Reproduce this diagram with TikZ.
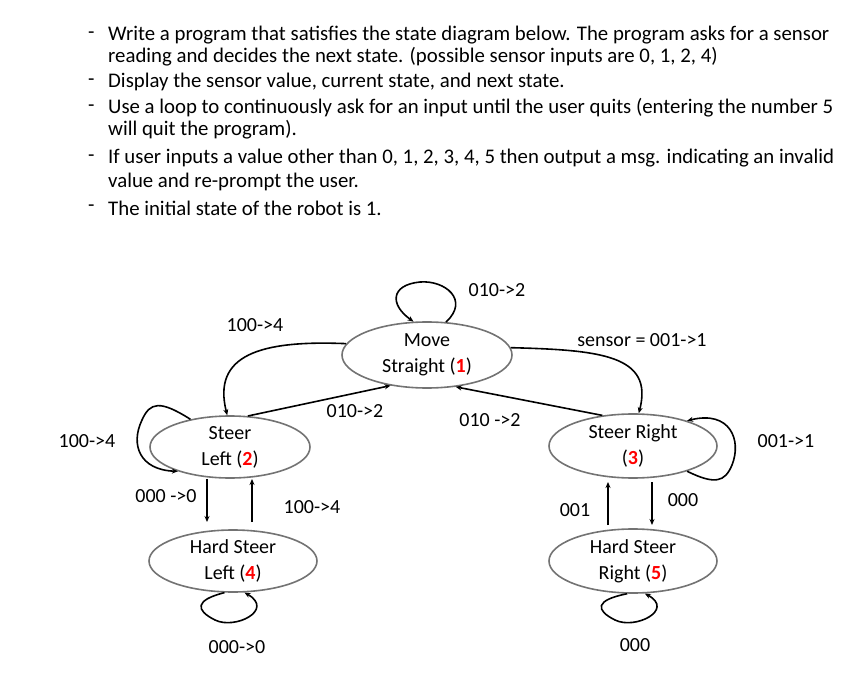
\documentclass[tikz,border=0pt]{standalone}
\usepackage{fontspec}
\setmainfont{Carlito}
\usetikzlibrary{arrows.meta,shapes.geometric}
\begin{document}
\begin{tikzpicture}[x=1pt,y=-1pt,
  st/.style={draw=black!55,line width=1.6pt,ellipse,minimum width=#1,inner sep=0pt,align=center,font=\fontsize{20}{26}\selectfont},
  st/.default=168pt,
  ar/.style={line width=1.6pt,-{Stealth[length=6pt,width=5pt]}},
  lb/.style={font=\fontsize{20}{22}\selectfont,inner sep=0pt},
  tx/.style={font=\fontsize{20.8}{22}\selectfont,inner sep=0pt,anchor=west}]
\useasboundingbox (0,0) rectangle (855,693);
\def\R#1{\textbf{\color{red}#1}}
% top text
\foreach \y in {35,82,108,158,208} \node[tx] at (88,\y) {-};
\node[tx] (t1) at (108,35) {Write a program that satisfies the state diagram below. The program asks for a sensor};
\node[tx] (t2) at (108,57) {reading and decides the next state. (possible sensor inputs are 0, 1, 2, 4)};
\node[tx] (t3) at (108,82) {Display the sensor value, current state, and next state.};
\node[tx] (t4) at (108,108) {Use a loop to continuously ask for an input until the user quits (entering the number 5};
\node[tx] (t5) at (108,130) {will quit the program).};
\node[tx] (t6) at (108,158) {If user inputs a value other than 0, 1, 2, 3, 4, 5 then output a msg. indicating an invalid};
\node[tx] (t7) at (108,182) {value and re-prompt the user.};
\node[tx] (t8) at (108,208) {The initial state of the robot is 1.};
% states
\node[st=170pt,minimum height=66pt] (m) at (427,355) {Move\\Straight (\R{1})};
\node[st=160pt,minimum height=62pt] (sl) at (230,447) {Steer\\Left (\R{2})};
\node[st=168pt,minimum height=64pt] (sr) at (633,446) {Steer Right\\(\R{3})};
\node[st=168pt,minimum height=62pt] (hl) at (233,561) {Hard Steer\\Left (\R{4})};
\node[st=168pt,minimum height=64pt] (hr) at (633,561) {Hard Steer\\Right (\R{5})};
\coordinate (a1) at (207,484); \coordinate (a2) at (207,522);
\coordinate (b1) at (252,522); \coordinate (b2) at (252,479);
\coordinate (c1) at (608,525); \coordinate (c2) at (608,482);
\coordinate (d1) at (652,482); \coordinate (d2) at (652,525);
% edges
\draw[ar] (m.60) .. controls (470,300) and (445,280) .. (420,282) .. controls (390,285) and (390,305) .. (m.112);
\node[lb] at (497,290) {010->2};
\draw[ar] (m.172) .. controls (260,340) and (212,355) .. (sl.95);
\node[lb] at (255,325) {100->4};
\draw[ar] (sl.60) -- (m.-140);
\node[lb] at (355,411) {010->2};
\draw[ar] (sr.135) -- (m.-48);
\node[lb] at (490,420) {010 ->2};
\draw[ar] (m.5) .. controls (600,350) and (654,355) .. (sr.80);
\node[lb] at (642,340) {sensor = 001->1};
\draw[ar] (sr.-25) .. controls (715,485) and (725,482) .. (732,465) .. controls (742,440) and (730,410) .. (sr.25);
\node[lb] at (786,441) {001->1};
\draw[ar] (sl.145) .. controls (160,400) and (150,402) .. (142,420) .. controls (130,445) and (140,470) .. (sl.-155);
\node[lb] at (87,441) {100->4};
\draw[ar] (sl.south -| a1) -- (a2);
\node[lb] at (166,496) {000 ->0};
\draw[ar] (b1) -- (b2);
\node[lb] at (312,507) {100->4};
\draw[ar] (c1) -- (c2);
\node[lb] at (575,510) {001};
\draw[ar] (d1) -- (d2);
\node[lb] at (683,500) {000};
\draw[ar] (hl.-105) .. controls (195,600) and (195,610) .. (215,620) .. controls (235,630) and (275,610) .. (hl.-70);
\node[lb] at (237,647) {000->0};
\draw[ar] (hr.-100) .. controls (595,600) and (595,610) .. (615,620) .. controls (635,630) and (675,610) .. (hr.-70);
\node[lb] at (635,645) {000};
\end{tikzpicture}
\end{document}
